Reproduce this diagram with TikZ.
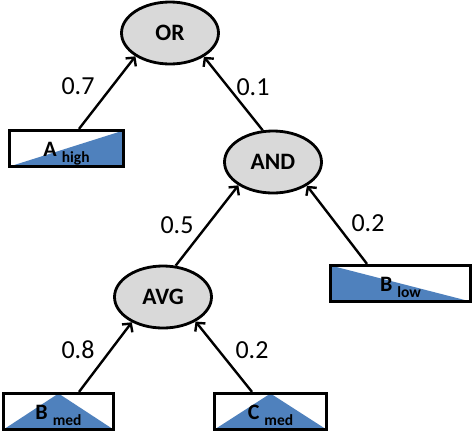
\documentclass[tikz,border=0pt]{standalone}
\usepackage{fontspec}
\setmainfont{Carlito}
\usetikzlibrary{shapes.geometric,arrows.meta}
\definecolor{boxblue}{HTML}{4F81BD}
\definecolor{opgray}{HTML}{D9D9D9}
\newcommand\attrtxt[2]{{\fontsize{22}{22}\selectfont\bfseries #1}\hspace{5pt}\raisebox{-6pt}{\fontsize{15.5}{15.5}\selectfont\bfseries #2}}
\begin{document}
\begin{tikzpicture}[x=1pt,y=-1pt,
  opnode/.style={ellipse, draw, line width=2.8pt, fill=opgray, minimum width=97pt, minimum height=62pt, inner sep=0pt, font=\fontsize{23.5}{23.5}\selectfont\bfseries},
  attrbox/.style={rectangle, draw, line width=3.2pt, fill=white, inner sep=0pt, minimum height=36pt, text height=15pt, text depth=0pt},
  wlabel/.style={font=\fontsize{26}{26}\selectfont, inner sep=0pt},
  arr/.style={line width=2.4pt, -{Straight Barb[length=6pt,width=13pt]}},
  risetri/.style={path picture={\fill[boxblue] (path picture bounding box.south west) -- (path picture bounding box.north east) -- (path picture bounding box.south east) -- cycle;}},
  falltri/.style={path picture={\fill[boxblue] (path picture bounding box.north west) -- (path picture bounding box.south east) -- (path picture bounding box.south west) -- cycle;}},
  peaktri/.style={path picture={\fill[boxblue] (path picture bounding box.south west) -- (path picture bounding box.north) -- (path picture bounding box.south east) -- cycle;}}
]
\useasboundingbox (0,0) rectangle (474,432);
% operator nodes
\node[opnode] (or) at (170,33) {OR};
\node[opnode] (and) at (273,162) {AND};
\node[opnode] (avg) at (163,297) {AVG};
% attribute boxes
\node[attrbox, risetri, minimum width=114pt] (ahigh) at (66.5,148.5) {\attrtxt{A}{high}};
\node[attrbox, falltri, minimum width=140pt] (blow) at (400.5,283.5) {\attrtxt{B}{low}};
\node[attrbox, peaktri, minimum width=110pt] (bmed) at (58.5,411.5) {\attrtxt{B}{med}};
\node[attrbox, peaktri, minimum width=112pt] (cmed) at (270.5,411.5) {\attrtxt{C}{med}};
% connectors
\draw[arr] ([xshift=12.5pt]ahigh.north) -- (or.214);
\draw[arr] (and.108) -- (or.325);
\draw[arr] (avg.68) -- (and.214);
\draw[arr] ([xshift=-33.5pt]blow.north) -- (and.325);
\draw[arr] ([xshift=20.5pt]bmed.north) -- (avg.219);
\draw[arr] ([xshift=-18.5pt]cmed.north) -- (avg.323);
% weights
\node[wlabel] (w1) at (78,86) {0.7};
\node[wlabel] (w2) at (253,87) {0.1};
\node[wlabel] (w3) at (177,225) {0.5};
\node[wlabel] (w4) at (368,223) {0.2};
\node[wlabel] (w5) at (78,350) {0.8};
\node[wlabel] (w6) at (252,350) {0.2};
\end{tikzpicture}
\end{document}
